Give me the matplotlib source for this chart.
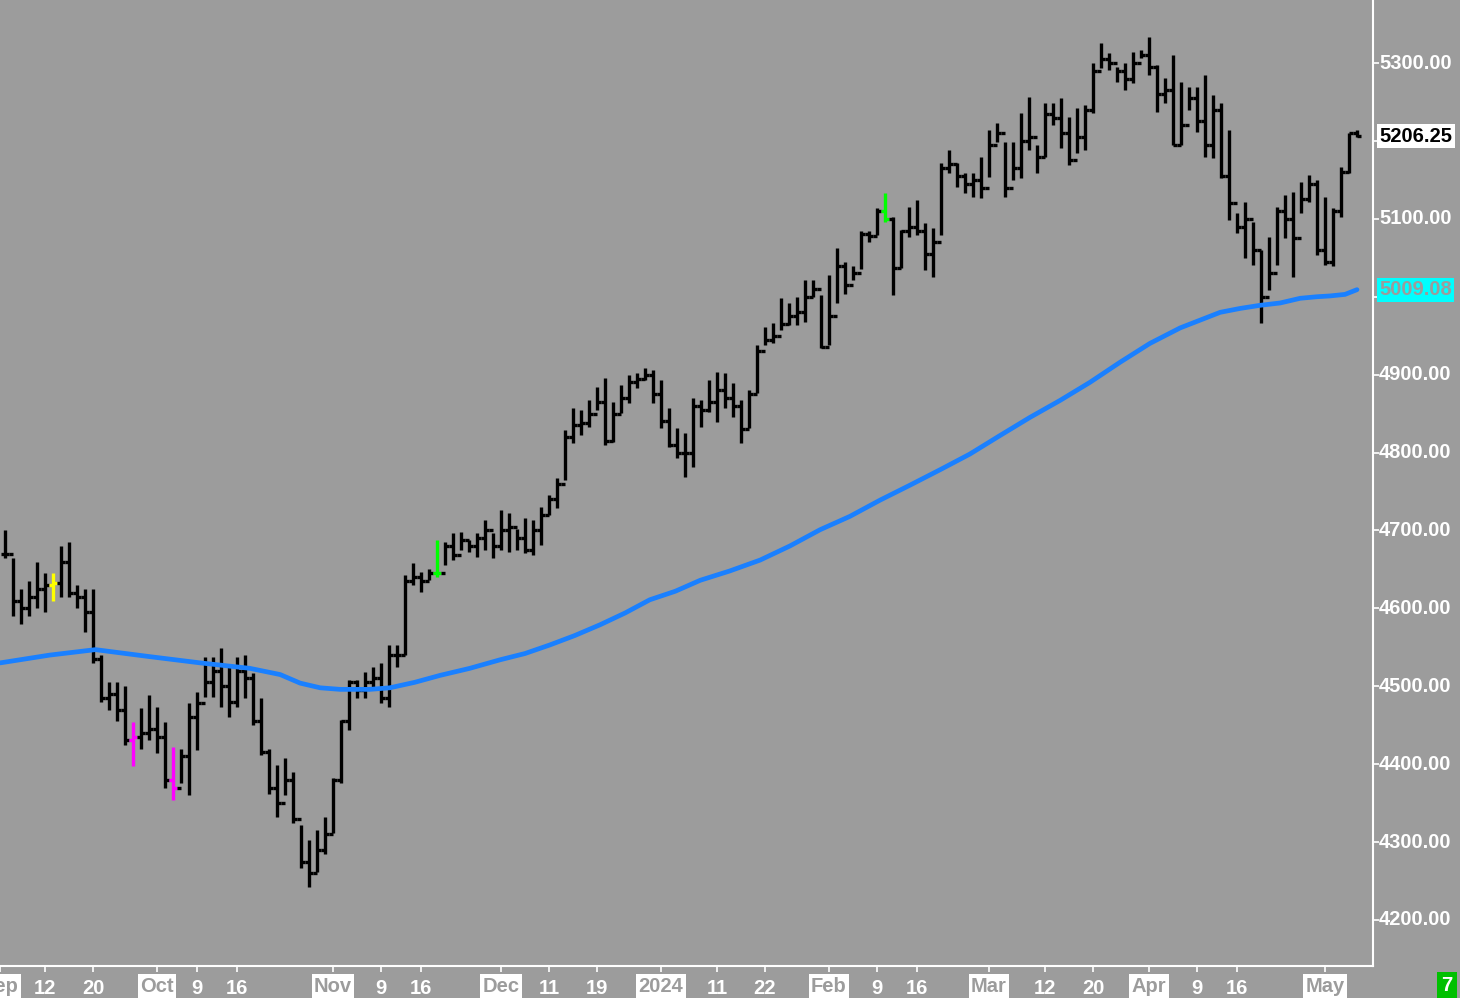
import matplotlib.pyplot as plt
from matplotlib.collections import LineCollection

plt.rcParams["font.family"] = ["Liberation Sans", "DejaVu Sans"]

# daily bars, Sep 2023 - May 2024
highs = [4700, 4665, 4625, 4635, 4660, 4645, 4645, 4680, 4685, 4630, 4625, 4625, 4540, 4505,
         4505, 4500, 4454, 4472, 4489, 4473, 4454, 4422, 4420, 4478, 4492, 4538, 4538, 4549,
         4525, 4538, 4540, 4517, 4485, 4420, 4399, 4408, 4390, 4322, 4303, 4315, 4332, 4382,
         4457, 4508, 4508, 4518, 4525, 4530, 4553, 4553, 4643, 4658, 4647, 4650, 4688, 4685,
         4697, 4698, 4688, 4697, 4713, 4697, 4726, 4722, 4702, 4716, 4713, 4730, 4745, 4767,
         4829, 4857, 4855, 4867, 4884, 4896, 4865, 4887, 4900, 4902, 4909, 4906, 4893, 4857,
         4832, 4825, 4870, 4867, 4893, 4903, 4902, 4889, 4867, 4880, 4938, 4961, 4966, 4998,
         4992, 5000, 5021, 5021, 5002, 5028, 5062, 5044, 5040, 5085, 5085, 5114, 5133, 5102,
         5086, 5115, 5124, 5095, 5088, 5172, 5188, 5172, 5159, 5159, 5179, 5214, 5223, 5199,
         5199, 5236, 5256, 5195, 5249, 5249, 5255, 5231, 5242, 5246, 5300, 5326, 5313, 5295,
         5300, 5314, 5317, 5333, 5297, 5281, 5310, 5276, 5269, 5269, 5285, 5259, 5249, 5214,
         5107, 5121, 5096, 5060, 5077, 5115, 5130, 5134, 5147, 5156, 5150, 5128, 5114, 5167,
         5210, 5214]
lows = [4665, 4590, 4580, 4590, 4600, 4595, 4610, 4615, 4615, 4600, 4570, 4530, 4480, 4470,
        4455, 4425, 4397, 4420, 4431, 4414, 4370, 4354, 4376, 4360, 4418, 4486, 4486, 4473,
        4460, 4473, 4485, 4450, 4412, 4362, 4332, 4360, 4325, 4267, 4242, 4261, 4285, 4311,
        4376, 4444, 4485, 4485, 4495, 4478, 4473, 4525, 4540, 4630, 4621, 4637, 4640, 4656,
        4662, 4675, 4672, 4666, 4675, 4665, 4675, 4672, 4675, 4671, 4668, 4681, 4720, 4729,
        4765, 4812, 4822, 4833, 4855, 4810, 4814, 4851, 4864, 4883, 4893, 4864, 4832, 4807,
        4793, 4769, 4782, 4833, 4852, 4839, 4857, 4846, 4812, 4832, 4876, 4938, 4941, 4957,
        4964, 4964, 4968, 5000, 4934, 4938, 4992, 5004, 5021, 5036, 5070, 5079, 5096, 5002,
        5037, 5077, 5079, 5034, 5025, 5079, 5159, 5141, 5133, 5128, 5127, 5154, 5199, 5128,
        5150, 5153, 5188, 5159, 5179, 5220, 5191, 5169, 5185, 5188, 5236, 5294, 5291, 5276,
        5265, 5274, 5306, 5285, 5237, 5249, 5195, 5195, 5240, 5212, 5179, 5178, 5153, 5098,
        5082, 5050, 5041, 4966, 5009, 5041, 5075, 5025, 5107, 5121, 5054, 5041, 5039, 5102,
        5159, 5205]
closes = [4670, 4610, 4600, 4615, 4625, 4630, 4632, 4660, 4620, 4615, 4595, 4535, 4485, 4490,
          4470, 4431, 4435, 4440, 4445, 4435, 4380, 4370, 4410, 4460, 4478, 4505, 4520, 4500,
          4480, 4520, 4510, 4455, 4415, 4370, 4350, 4380, 4330, 4275, 4260, 4290, 4310, 4380,
          4455, 4505, 4495, 4505, 4510, 4485, 4540, 4540, 4635, 4640, 4635, 4645, 4645, 4680,
          4668, 4688, 4680, 4690, 4700, 4680, 4700, 4705, 4690, 4675, 4700, 4720, 4740, 4760,
          4820, 4835, 4838, 4850, 4865, 4815, 4850, 4870, 4890, 4895, 4900, 4875, 4840, 4810,
          4800, 4800, 4860, 4855, 4865, 4880, 4870, 4860, 4830, 4875, 4930, 4945, 4950, 4965,
          4975, 4980, 5000, 5010, 4935, 4975, 5040, 5015, 5030, 5080, 5078, 5110, 5100, 5037,
          5085, 5090, 5085, 5055, 5070, 5165, 5170, 5155, 5145, 5150, 5140, 5195, 5210, 5140,
          5165, 5200, 5205, 5180, 5235, 5230, 5210, 5175, 5205, 5240, 5290, 5305, 5300, 5290,
          5280, 5300, 5310, 5295, 5260, 5265, 5195, 5220, 5255, 5225, 5195, 5240, 5155, 5120,
          5090, 5100, 5060, 5000, 5030, 5110, 5100, 5075, 5125, 5145, 5060, 5045, 5110, 5160,
          5210, 5206.25]

# highlighted bars (signal colours)
marks = {6: "#ffff00", 16: "#ff00ff", 21: "#ff00ff", 54: "#00ff00", 110: "#00ff00"}

# moving average, sampled along the blue line
ma_idx = [-0.6, 5.6, 11.3, 18.1, 24.4, 30.6, 34.4, 36.9, 39.4, 41.9, 45.6, 48.1, 51.2, 54.4,
          58.1, 61.9, 65.0, 68.1, 71.2, 74.4, 77.5, 80.6, 83.8, 86.9, 90.6, 94.4, 98.1, 101.9,
          105.6, 109.4, 113.1, 116.9, 120.6, 124.4, 128.1, 131.9, 135.6, 139.4, 143.1, 146.9,
          149.4, 151.9, 154.4, 156.9, 159.4, 161.9, 164.0, 165.6, 167.5, 169]
ma_val = [4530, 4540, 4547, 4538, 4530, 4523, 4515, 4504, 4498, 4496, 4496, 4498, 4505, 4514,
          4523, 4534, 4542, 4553, 4565, 4579, 4594, 4611, 4622, 4636, 4648, 4662, 4680, 4701,
          4718, 4739, 4758, 4778, 4798, 4822, 4845, 4867, 4890, 4916, 4940, 4960, 4970, 4980,
          4985, 4989, 4992, 4998, 5000, 5001, 5003, 5009.08]

tick_pos = [-0.6, 5, 11, 19, 24, 29, 41, 47, 52, 62, 68, 74, 82, 89, 95, 103, 109, 114, 123,
            130, 136, 143, 149, 154, 165]
tick_lab = ["Sep", "12", "20", "Oct", "9", "16", "Nov", "9", "16", "Dec", "11", "19", "2024",
            "11", "22", "Feb", "9", "16", "Mar", "12", "20", "Apr", "9", "16", "May"]
month_names = {"Sep", "Oct", "Nov", "Dec", "2024", "Feb", "Mar", "Apr", "May"}

BG = "#9c9c9c"
FS = 14.5
fig = plt.figure(figsize=(14.6, 9.98), dpi=100, facecolor=BG)
ax = fig.add_axes([0, 1 - 966 / 998, 1373 / 1460, 966 / 998], facecolor=BG)

segs, cols = [], []
opens = [closes[0]] + closes[:-1]
for i in range(len(closes)):
    c = marks.get(i, "black")
    segs += [[(i, lows[i]), (i, highs[i])],
             [(i - 0.5, opens[i]), (i, opens[i])],
             [(i, closes[i]), (i + 0.5, closes[i])]]
    cols += [c, c, c]
ax.add_collection(LineCollection(segs, colors=cols, linewidths=2.4, capstyle="butt"))

ax.plot(ma_idx, ma_val, color="#1a80ff", lw=3.4, solid_capstyle="round")

ax.set_xlim(-0.625, 171)
ax.set_ylim(4140.9, 5380.9)

for s in ["top", "left"]:
    ax.spines[s].set_visible(False)
ax.spines["right"].set_color("white")
ax.spines["bottom"].set_color("white")
ax.spines["right"].set_linewidth(1.5)
ax.spines["bottom"].set_linewidth(1.5)

ax.yaxis.tick_right()
yt = [4200, 4300, 4400, 4500, 4600, 4700, 4800, 4900, 5000, 5100, 5200, 5300]
ax.set_yticks(yt)
ax.set_yticklabels(["" for _ in yt])
ax.tick_params(axis="y", colors="white", length=4, width=1.2)
ytr = ax.get_yaxis_transform()
for v in yt:
    if v in (5000, 5200):
        continue
    ax.text(1.0045, v, f"{v:.2f}", transform=ytr, color="white",
            fontsize=FS, fontweight="bold", va="center", ha="left")
ax.text(1.0045, closes[-1], f"{closes[-1]:.2f}", transform=ytr,
        color="black", fontsize=FS, fontweight="bold", va="center", ha="left",
        bbox=dict(boxstyle="square,pad=0.12", fc="white", ec="none"))
ax.text(1.0045, ma_val[-1], f"{ma_val[-1]:.2f}", transform=ytr,
        color="#9c9c9c", fontsize=FS, fontweight="bold", va="center", ha="left",
        bbox=dict(boxstyle="square,pad=0.12", fc="#00ffff", ec="none"))

ax.set_xticks(tick_pos)
ax.set_xticklabels(["" for _ in tick_pos])
ax.tick_params(axis="x", colors="white", length=4, width=1.2)
xtr = ax.get_xaxis_transform()
for p, lab in zip(tick_pos, tick_lab):
    if lab in month_names:
        ax.text(p, -0.011, lab, transform=xtr, color="#9c9c9c",
                fontsize=FS, fontweight="bold", ha="center", va="top",
                bbox=dict(boxstyle="square,pad=0.12", fc="white", ec="none"))
    else:
        ax.text(p, -0.013, lab, transform=xtr, color="white",
                fontsize=FS, fontweight="bold", ha="center", va="top")

fig.text(0.995, 0.003, "7", color="white", fontsize=FS, fontweight="bold", ha="right",
         va="bottom", bbox=dict(boxstyle="square,pad=0.2", fc="#00c000", ec="none"))

fig.savefig("out.png", dpi=100, facecolor=BG)
